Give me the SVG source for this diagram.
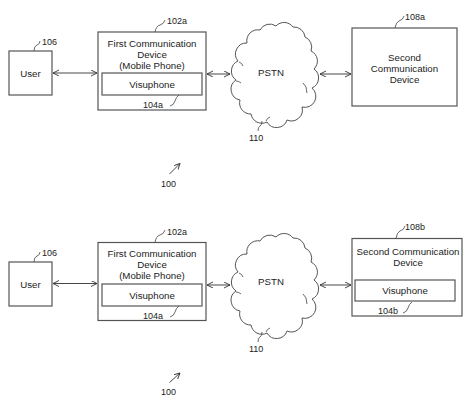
<svg xmlns="http://www.w3.org/2000/svg" width="474" height="410" viewBox="0 0 474 410">
<style>
.box{fill:#fff;stroke:#555;stroke-width:1.2}
.cl{fill:#fff;stroke:#555;stroke-width:1}
.ln{fill:none;stroke:#333;stroke-width:0.9}
.ld{fill:none;stroke:#444;stroke-width:0.8}
.t{font-family:"Liberation Sans",Arial,sans-serif;font-size:9.7px;fill:#222;text-anchor:middle}
.l{font-family:"Liberation Sans",Arial,sans-serif;font-size:9px;fill:#222}
</style>
<defs>
<marker id="ah" markerWidth="8" markerHeight="8" refX="6" refY="3" orient="auto-start-reverse" markerUnits="userSpaceOnUse">
<path d="M0,0 L6,3 L0,6" fill="none" stroke="#333" stroke-width="0.9"/>
</marker>
<path id="cloud" d="M238,61 A11,11 0 0 1 247,43 A11,11 0 0 1 260,30 A11,11 0 0 1 276,26 A11,11 0 0 1 293,27 A11,11 0 0 1 305,37 A11,11 0 0 1 311,51 A11,11 0 0 1 314,69 A11,11 0 0 1 312,88 A11,11 0 0 1 302,107 A11,11 0 0 1 287,120 A11,11 0 0 1 267,122 A11,11 0 0 1 251,114 A11,11 0 0 1 240,100 A11,11 0 0 1 236,80 A11,11 0 0 1 238,61 Z"/>
<path id="curls" d="M239,62 q3,1 4,4 M236,81 q3,0 5,2 M303,83 q4,3 4,10 M266,121 q1,-3 4,-4"/>
</defs>

<!-- TOP FIGURE -->
<g id="user-a">
<rect class="box" x="9" y="51" width="43" height="44"/>
<text class="t" x="30.5" y="76.5">User</text>
<path class="ld" d="M34,51 Q34,46 37,45 Q40,44 40,41"/>
<text class="l" x="42" y="45">106</text>
</g>
<g id="first-device-a">
<rect class="box" x="98" y="32" width="108" height="78"/>
<text class="t" x="152" y="46.5">First Communication</text>
<text class="t" x="152" y="57.5">Device</text>
<text class="t" x="152" y="68.5">(Mobile Phone)</text>
<path class="ld" d="M155,32 Q156,26 160,25 Q164,24 165,20"/>
<text class="l" x="167" y="24">102a</text>
</g>
<g id="visuphone-a">
<rect class="box" x="102" y="73" width="100" height="22"/>
<text class="t" x="152" y="87.5">Visuphone</text>
<path class="ld" d="M170,106 Q174,105 175,101 Q176,97 179,95"/>
<text class="l" x="143" y="107.5">104a</text>
</g>
<g id="pstn-a">
<use href="#cloud" class="cl"/>
<use href="#curls" class="ld"/>
<text class="t" x="271" y="75.5">PSTN</text>
<path class="ld" d="M258,131 Q258,127 260,126 Q262,125 262,121"/>
<text class="l" x="249" y="140.5">110</text>
</g>
<g id="second-device-a">
<rect class="box" x="352" y="28" width="105" height="78"/>
<text class="t" x="404.5" y="60.5">Second</text>
<text class="t" x="404.5" y="71.5">Communication</text>
<text class="t" x="404.5" y="82.5">Device</text>
<path class="ld" d="M395,28 Q396,22 399,21 Q403,20 404,16"/>
<text class="l" x="405" y="19.5">108a</text>
</g>
<g id="ref-100-a">
<path class="ln" d="M169.5,174 L180,163.5" marker-end="url(#ah)"/>
<text class="l" x="161" y="186.5">100</text>
</g>

<!-- BOTTOM FIGURE -->
<g id="user-b">
<rect class="box" x="9" y="262" width="43" height="44"/>
<text class="t" x="30.5" y="287.5">User</text>
<path class="ld" d="M34,262 Q34,257 37,256 Q40,255 40,252"/>
<text class="l" x="42" y="256">106</text>
</g>
<g id="first-device-b">
<rect class="box" x="98" y="242.5" width="108" height="78"/>
<text class="t" x="152" y="257">First Communication</text>
<text class="t" x="152" y="268">Device</text>
<text class="t" x="152" y="279">(Mobile Phone)</text>
<path class="ld" d="M155,242.5 Q156,236 160,235 Q164,234 165,230"/>
<text class="l" x="167" y="234.5">102a</text>
</g>
<g id="visuphone-b">
<rect class="box" x="102" y="284" width="100" height="22"/>
<text class="t" x="152" y="298.5">Visuphone</text>
<path class="ld" d="M170,317 Q174,316 175,312 Q176,308 179,306"/>
<text class="l" x="143" y="318.5">104a</text>
</g>
<g id="pstn-b" transform="translate(0,211)">
<use href="#cloud" class="cl"/>
<use href="#curls" class="ld"/>
<text class="t" x="271" y="74">PSTN</text>
<path class="ld" d="M258,131 Q258,127 260,126 Q262,125 262,121"/>
<text class="l" x="249" y="140.5">110</text>
</g>
<g id="second-device-b">
<rect class="box" x="352" y="238.5" width="110" height="77.5"/>
<text class="t" x="408" y="255">Second Communication</text>
<text class="t" x="408" y="266">Device</text>
<path class="ld" d="M396,238.5 Q397,232 400,231 Q404,230 405,226"/>
<text class="l" x="405" y="230">108b</text>
</g>
<g id="visuphone-b2">
<rect class="box" x="355" y="280" width="100" height="21"/>
<text class="t" x="405" y="294">Visuphone</text>
<path class="ld" d="M403,313 Q407,312 408,308 Q409,304 412,302"/>
<text class="l" x="378" y="313.5">104b</text>
</g>
<g id="ref-100-b">
<path class="ln" d="M169.5,382.5 L180,373" marker-end="url(#ah)"/>
<text class="l" x="161" y="395">100</text>
</g>

<g id="connectors">
<path class="ln" d="M53,73 L97,73" marker-start="url(#ah)" marker-end="url(#ah)"/>
<path class="ln" d="M207,74 L230,74" marker-start="url(#ah)" marker-end="url(#ah)"/>
<path class="ln" d="M320,74 L351,74" marker-start="url(#ah)" marker-end="url(#ah)"/>
<path class="ln" d="M53,283.5 L97,283.5" marker-start="url(#ah)" marker-end="url(#ah)"/>
<path class="ln" d="M207,285 L230,285" marker-start="url(#ah)" marker-end="url(#ah)"/>
<path class="ln" d="M320,285 L351,285" marker-start="url(#ah)" marker-end="url(#ah)"/>
</g>
</svg>
